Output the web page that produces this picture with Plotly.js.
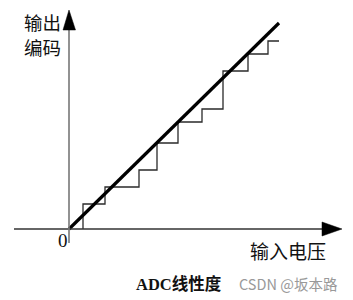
<!DOCTYPE html>
<html><head><meta charset="utf-8">
<script src="https://cdn.plot.ly/plotly-3.0.1.min.js"></script>
<style>html,body{margin:0;padding:0;background:#fff}</style>
</head><body><div id="chart" style="width:353px;height:300px"></div>
<script>
// Ideal transfer line (input voltage -> output code)
const idealX = [0, 210];
const idealY = [0, 206];
// Real ADC staircase: transition points (input) and output code levels
const stepX = [14, 36, 70, 88, 109, 133, 154, 179, 199, 210];
const stepY = [0, 25, 42, 59, 86, 107, 120, 158, 175, 188];
// Labels
const yLabel = ['输出', '编码'];
const xLabel = '输入电压';
const originLabel = '0';
const titleText = 'ADC线性度';
const watermark = 'CSDN @坂本路';

const W = 353, H = 300;
const X0 = 69, Y0 = 229; // pixel location of origin
const px = p => p - X0;
const py = p => Y0 - p;

const traces = [
  {x: stepX, y: stepY, mode: 'lines', line: {shape: 'vh', color: '#2a2a2a', width: 1.3}, hoverinfo: 'skip'},
  {x: idealX, y: idealY, mode: 'lines', line: {color: '#000', width: 3.2}, hoverinfo: 'skip'}
];

const shapes = [
  // x axis
  {type: 'line', x0: px(14), x1: px(324), y0: 0, y1: 0, line: {color: '#333', width: 1.3}},
  {type: 'path', path: `M ${px(322)} ${py(222)} L ${px(342)} ${py(229)} L ${px(322)} ${py(236)} Z`, fillcolor: '#000', line: {color: '#000', width: 0.5}},
  // y axis
  {type: 'line', x0: 0, x1: 0, y0: py(243), y1: py(28), line: {color: '#777', width: 1.6}},
  {type: 'path', path: `M ${px(63)} ${py(30)} L ${px(69)} ${py(10)} L ${px(75.5)} ${py(30)} Z`, fillcolor: '#000', line: {color: '#000', width: 0.5}}
];

const cjk = '"Noto Sans CJK SC", sans-serif';
const ann = (text, x, y, size, opts) => Object.assign({
  text, xref: 'paper', yref: 'paper', x: x / W, y: 1 - y / H,
  xanchor: 'center', yanchor: 'middle', showarrow: false,
  font: {family: cjk, size, color: '#111'}
}, opts || {});

const annotations = [
  ann(yLabel[0], 42, 22, 18.5),
  ann(yLabel[1], 42, 47, 18.5),
  ann(xLabel, 288, 250, 19),
  ann(originLabel, 63, 240, 18, {font: {family: '"Liberation Serif", serif', size: 19, color: '#111'}}),
  ann('<b><span style="font-family:Liberation Serif">ADC</span>线性度</b>', 179, 283, 16.5),
  ann(watermark, 288, 283, 14.5, {font: {family: '"Noto Sans CJK SC", "Liberation Sans", sans-serif', size: 14.5, color: '#999'}})
];

const layout = {
  width: W, height: H, margin: {l: 0, r: 0, t: 0, b: 0},
  paper_bgcolor: '#fff', plot_bgcolor: '#fff', showlegend: false,
  xaxis: {range: [px(0), px(W)], visible: false, fixedrange: true},
  yaxis: {range: [py(H), py(0)], visible: false, fixedrange: true},
  shapes, annotations
};

Plotly.newPlot('chart', traces, layout, {staticPlot: true, displayModeBar: false});
</script></body></html>
